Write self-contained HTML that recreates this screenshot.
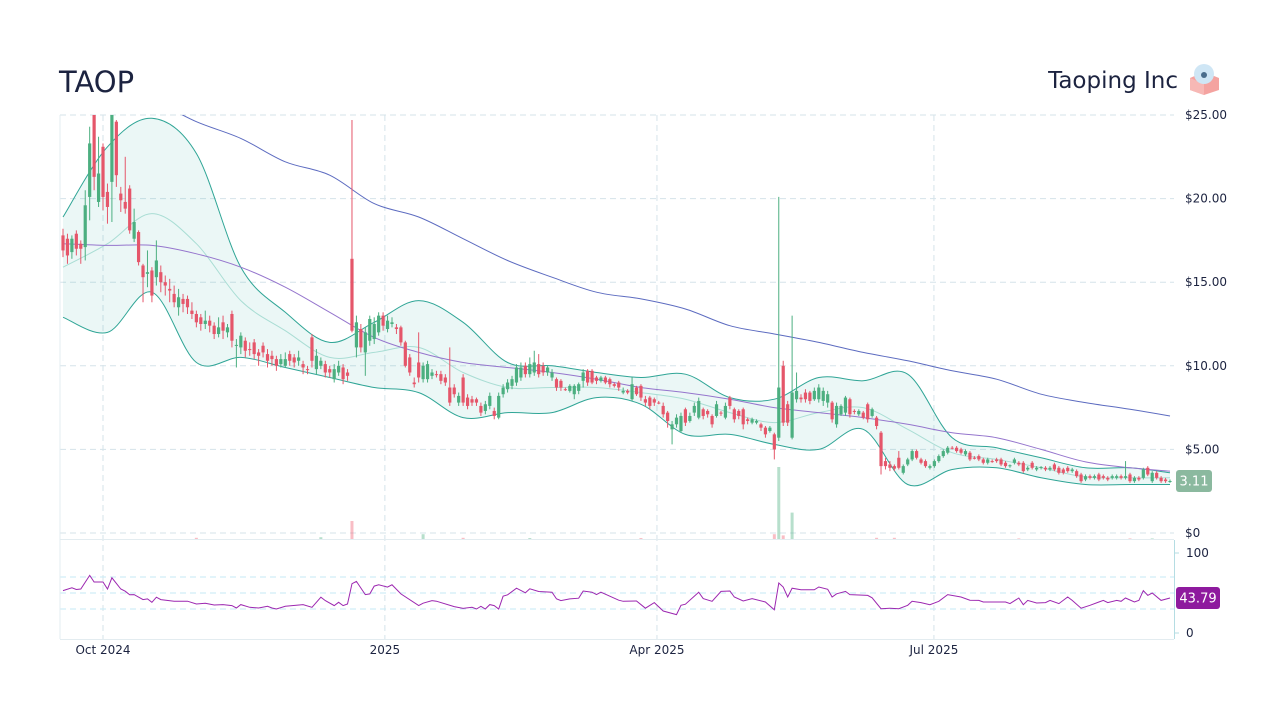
<!DOCTYPE html>
<html><head><meta charset="utf-8"><style>
html,body{margin:0;padding:0;background:#fff;}
body{width:1280px;height:720px;overflow:hidden;position:relative;font-family:"DejaVu Sans","Liberation Sans",sans-serif;}
#title{position:absolute;left:59px;top:65px;font-size:29px;color:#1c2340;}
#company{position:absolute;right:102px;top:68px;font-size:23px;color:#1c2340;}
svg text{font-family:"DejaVu Sans","Liberation Sans",sans-serif;}
</style></head><body>
<div id="title">TAOP</div>
<div id="company">Taoping Inc</div>
<svg id="chart" width="1280" height="720" style="position:absolute;left:0;top:0">
<g>
<path d="M1190 78 L1204 72 L1219 78 L1219 90 L1204 95 L1190 90 Z" fill="#f4a3a0"/>
<path d="M1204 84 L1204 95 L1190 90 L1190 78 Z" fill="#f7b8b5"/>
<circle cx="1204" cy="74" r="10" fill="#cfe6f5"/>
<circle cx="1204" cy="75" r="3" fill="#4a6d8c"/>
</g>
</svg>
<script>
const opens=[17.8,17.6,16.8,17.9,17.3,17.1,20.1,25.1,19.8,23.1,20.4,21.0,24.6,20.3,19.8,20.6,17.6,18.0,16.0,15.5,15.7,15.3,15.6,15.0,14.6,14.3,13.5,14.0,14.0,13.3,13.1,12.9,12.5,12.7,12.4,11.9,12.6,12.0,13.1,11.2,11.1,11.5,11.0,11.4,10.8,11.2,10.7,10.6,10.4,10.1,10.0,10.7,10.5,10.3,10.1,9.8,11.7,9.8,10.0,10.1,9.8,9.2,9.6,9.9,9.6,16.4,11.1,12.2,10.8,11.5,11.6,12.0,13.0,12.2,12.5,12.3,12.3,11.4,10.5,9.0,10.2,9.2,9.2,9.4,9.5,9.5,9.3,8.7,8.7,7.8,9.3,8.1,8.0,8.0,7.6,7.3,7.6,7.3,6.9,8.3,8.6,8.8,9.0,9.3,10.0,9.5,9.6,10.1,10.0,9.6,9.3,9.2,9.1,8.6,8.5,8.3,8.5,9.1,9.7,9.7,9.3,9.1,9.3,9.2,8.9,9.0,8.4,8.5,8.0,8.7,8.8,8.0,8.1,8.0,7.8,7.6,7.2,6.2,6.5,6.1,7.4,6.7,7.2,6.9,7.4,7.3,7.0,7.0,7.2,6.9,8.1,7.4,7.3,7.4,6.8,6.6,6.6,6.5,6.3,6.1,5.9,5.7,10.0,7.7,5.7,8.0,8.1,8.4,8.4,8.0,8.0,7.9,7.8,7.8,6.5,7.1,7.2,8.0,7.3,7.1,7.2,7.7,7.0,6.9,6.0,4.3,4.1,4.0,4.5,3.6,4.1,4.4,4.9,4.4,4.3,3.9,4.0,4.3,4.6,4.8,5.1,5.1,5.0,4.7,4.8,4.5,4.6,4.4,4.2,4.3,4.4,4.4,4.2,4.0,4.2,4.2,4.2,3.8,4.2,3.8,3.9,3.9,3.8,4.1,3.9,3.8,3.9,3.7,3.7,3.5,3.2,3.4,3.3,3.5,3.4,3.3,3.3,3.3,3.4,3.3,3.5,3.1,3.3,3.3,3.9,3.1,3.6,3.3,3.2,3.1];
const closes=[16.9,16.6,17.6,17.0,17.0,19.6,23.3,21.3,21.5,20.1,19.5,25.1,21.4,19.9,19.4,18.1,18.6,16.2,15.3,15.6,14.2,16.3,15.0,14.8,14.5,13.8,14.1,13.7,13.5,13.1,12.6,12.5,12.7,12.4,11.9,12.3,12.1,12.3,11.5,11.25,11.8,10.9,10.95,10.7,10.6,10.8,10.3,10.4,10.0,10.4,10.4,10.3,10.2,10.5,9.9,9.75,10.3,10.6,10.3,9.6,9.6,9.8,10.0,9.2,9.4,12.1,12.6,11.1,12.0,12.8,12.5,13.0,12.4,12.7,12.6,12.2,11.4,10.0,9.6,8.9,9.3,10.0,10.1,9.6,9.45,9.1,9.0,7.8,8.3,8.2,7.8,7.6,7.8,7.8,7.2,7.7,8.2,7.0,8.2,8.7,9.0,9.2,9.9,9.9,9.5,10.1,10.2,9.5,9.6,9.9,9.6,8.7,8.7,8.55,8.8,8.8,8.9,9.6,9.0,9.0,9.1,9.3,9.0,8.9,8.8,8.7,8.5,8.4,8.9,8.3,8.1,7.8,7.6,7.8,7.75,7.1,6.7,6.5,6.9,7.0,6.6,7.0,7.6,7.9,7.0,7.1,6.5,7.7,7.15,7.6,7.6,6.8,7.0,6.5,6.7,6.8,6.7,6.3,5.9,6.3,5.0,8.7,6.6,6.6,8.4,8.5,8.0,8.0,7.9,8.5,8.7,8.5,8.3,6.8,7.6,7.6,8.1,7.1,7.25,7.3,6.9,6.8,7.4,6.4,4.0,4.0,3.9,3.85,3.9,4.0,4.4,4.9,4.5,4.2,4.0,4.0,4.3,4.6,4.9,5.1,5.05,4.9,4.8,4.9,4.4,4.45,4.4,4.2,4.4,4.25,4.3,4.1,4.0,4.05,4.4,4.1,3.7,3.9,3.9,3.9,3.95,3.8,3.9,3.8,3.6,3.6,3.7,3.8,3.4,3.1,3.4,3.3,3.4,3.2,3.3,3.2,3.4,3.4,3.3,3.4,3.1,3.3,3.2,3.8,3.5,3.6,3.3,3.1,3.1,3.11];
const highs=[18.2,17.9,17.8,18.1,17.5,20.5,24.3,25.5,23.7,23.3,20.9,25.5,24.7,20.7,22.5,20.8,19.4,18.1,16.1,16.9,15.9,17.5,16.0,15.4,15.2,14.8,14.6,14.3,14.2,13.8,13.3,13.1,13.3,13.0,12.6,12.9,13.0,12.5,13.3,11.6,12.0,11.7,11.4,11.6,11.0,11.4,11.0,10.9,10.6,10.7,10.8,10.9,10.7,10.9,10.3,10.0,11.9,11.0,10.5,10.3,10.0,10.1,10.3,10.1,9.8,24.7,13.0,12.5,12.3,13.0,12.9,13.2,13.2,13.0,12.9,12.5,12.4,11.5,10.7,9.3,12.0,10.2,10.3,9.8,9.7,9.7,9.5,11.1,8.9,8.4,9.5,8.3,8.2,8.1,7.8,7.9,8.4,7.5,8.4,8.9,9.2,9.4,10.1,10.2,10.2,10.5,10.9,10.7,10.2,10.0,9.8,9.3,9.2,8.7,8.9,8.9,9.0,9.8,9.8,9.8,9.4,9.4,9.4,9.3,9.0,9.1,8.7,8.6,9.3,8.8,8.9,8.2,8.2,8.1,7.9,7.8,7.3,6.7,7.1,7.2,7.5,7.2,7.8,8.1,7.5,7.4,7.1,7.9,7.3,7.8,8.2,7.5,7.4,7.5,6.9,6.9,6.8,6.6,6.4,6.4,6.0,20.1,10.3,7.9,13.0,9.6,8.3,8.6,8.5,8.7,8.9,8.7,8.5,7.9,7.8,7.7,8.2,8.1,7.4,7.4,7.3,7.8,7.5,7.0,6.1,4.5,4.3,4.1,4.9,4.1,4.5,5.0,5.0,4.5,4.4,4.1,4.4,4.7,5.0,5.2,5.2,5.2,5.1,5.0,4.9,4.6,4.7,4.5,4.5,4.4,4.5,4.5,4.3,4.1,4.5,4.3,4.3,4.0,4.3,4.0,4.0,4.0,4.0,4.2,4.0,3.9,4.0,3.9,3.8,3.6,3.5,3.5,3.5,3.6,3.5,3.4,3.5,3.5,3.5,4.3,3.6,3.4,3.4,3.9,4.0,3.7,3.7,3.4,3.3,3.2];
const lows=[16.5,16.1,16.4,16.6,16.1,16.3,18.7,20.5,19.5,19.3,18.5,18.6,20.7,19.2,19.1,17.9,17.4,16.0,13.8,14.7,13.8,14.8,14.4,14.2,13.8,13.5,13.0,13.2,13.1,12.8,12.3,12.1,12.2,12.0,11.6,11.7,11.6,11.7,11.1,9.9,10.7,10.5,10.6,10.4,10.0,10.5,9.9,10.0,9.7,9.9,9.9,10.0,9.9,10.0,9.5,9.5,9.9,9.5,9.8,9.3,9.3,9.0,9.4,8.9,9.1,12.0,10.5,10.8,9.4,11.2,11.3,11.8,12.1,12.0,12.3,11.9,11.2,9.9,9.4,8.7,9.0,9.0,9.0,9.2,9.3,8.9,8.8,7.6,8.1,7.6,7.6,7.4,7.6,7.6,7.0,7.1,7.4,6.8,6.8,8.1,8.4,8.6,8.8,9.1,9.3,9.3,9.4,9.3,9.4,9.4,9.1,8.5,8.5,8.5,8.4,8.0,8.3,8.7,8.8,8.9,8.9,9.0,8.9,8.7,8.7,8.5,8.3,8.3,7.9,8.2,7.9,7.6,7.4,7.6,7.7,6.9,6.3,5.3,6.3,6.0,6.4,6.6,7.0,6.8,6.8,6.9,6.3,6.9,7.0,6.8,7.4,6.6,6.8,6.2,6.5,6.5,6.5,6.1,5.7,6.0,4.4,5.5,6.4,6.4,5.6,7.8,7.8,7.8,7.7,7.9,7.8,7.6,7.5,6.6,6.3,7.0,7.0,6.9,7.1,7.0,6.8,6.6,6.9,6.2,3.5,3.8,3.7,3.7,3.8,3.5,4.0,4.3,4.4,4.1,3.9,3.8,3.9,4.2,4.5,4.7,5.0,4.8,4.7,4.6,4.3,4.4,4.3,4.1,4.1,4.2,4.2,4.0,3.9,3.9,4.1,4.0,3.6,3.7,3.8,3.7,3.8,3.7,3.7,3.7,3.5,3.5,3.6,3.6,3.3,3.0,3.1,3.2,3.2,3.1,3.2,3.1,3.2,3.2,3.2,3.2,3.0,3.0,3.1,3.2,3.4,3.0,3.2,3.0,3.0,3.0];
// indicator samples (candle index -> value)
const indDays=[0,10,20,30,40,50,60,70,80,90,100,110,120,130,140,150,160,170,180,190,200,210,220,230,240,249];
const sma200=[27.5,26.7,25.9,24.6,23.6,22.2,21.4,19.7,18.9,17.6,16.3,15.3,14.4,14.0,13.4,12.4,11.9,11.4,10.8,10.3,9.7,9.2,8.3,7.8,7.4,7.0];
const sma50=[17.3,17.2,17.2,16.7,15.9,14.7,13.2,11.7,10.8,10.2,9.9,9.6,9.2,8.7,8.4,8.0,7.5,7.2,6.9,6.5,6.0,5.7,5.0,4.25,3.9,3.7];
const bbUpper=[18.9,23.1,24.8,22.7,15.9,13.2,11.4,12.6,13.9,12.6,10.2,10.0,9.6,9.3,9.5,8.1,8.0,9.3,9.1,9.5,5.7,5.1,4.5,3.9,3.9,3.6];
const bbMiddle=[15.9,17.3,19.1,17.3,13.9,12.1,10.5,10.8,11.1,9.6,8.7,8.7,8.7,8.4,8.0,7.2,6.6,7.2,7.5,6.2,4.8,4.4,3.9,3.35,3.3,3.3];
const bbLower=[12.9,12.0,14.4,10.2,10.5,9.9,9.3,8.7,8.4,6.9,7.2,7.2,8.1,7.7,5.9,5.9,5.3,5.0,6.2,2.9,3.8,3.9,3.3,2.9,2.9,2.9];
const rsiDays=[0,2,3,4,6,7,9,10,11,13,14,15,16,18,19,20,21,22,25,28,30,32,34,36,38,39,40,42,44,46,47,48,50,54,56,58,59,61,62,63,64,65,66,68,69,70,71,73,74,76,80,81,83,84,88,90,92,93,94,95,96,97,98,99,100,102,104,105,107,110,111,112,114,116,117,119,120,121,123,125,126,129,131,133,135,138,139,140,143,144,146,148,150,151,153,155,158,160,161,162,163,164,166,169,170,172,173,174,176,177,181,182,184,186,188,190,191,193,195,197,199,202,204,206,207,210,212,213,215,216,217,219,221,222,224,226,227,229,231,233,234,235,237,238,239,241,242,243,244,245,247,249];
const rsiVals=[53,56.5,54.4,55,72,63.7,63.7,55,69,55,52.3,47.7,48,41.8,42.6,38.4,44.7,41.8,39.7,39.7,36.3,37.2,35,35.5,34.2,31.3,35.5,32.1,31.3,33.4,31.3,30,33.4,35.5,32.1,44.7,40.5,34.2,38.4,34.2,36.3,61.6,64.5,48,48.9,58.6,60.3,57.4,60.3,48.9,34.2,37.2,40.5,39.7,33,30.8,32.1,30,33.4,30,35.5,34.2,30,46,47.7,56,50.2,55.3,51.9,51,42.6,40.5,42.6,43.5,52.5,51,48,51,46,41,39.6,40,31,38,27.5,23,34.6,36,51,43,39.6,52,52.5,45,40,43,38.8,29,62.5,57.5,45,56,54,54,57.5,54.6,45,49,52,48,47,44,30.4,31,30.4,34.6,39.6,38,35.4,39.6,48,45,41,40.8,38.8,38.8,38.8,36.7,43.8,35.4,40.8,37.5,38,40.8,36.7,45,40.8,31,34.6,38.8,40.8,38,40.8,39.6,43.8,38.8,40.8,53,47,50,40.8,43.79];
const volDays=[30,58,65,81,90,105,130,160,161,162,164,183,187,215,240,245];
const volVals=[0.1,0.15,1.5,0.4,0.1,0.08,0.08,0.4,6.0,0.3,2.2,0.1,0.1,0.05,0.05,0.05];
const priceTicks=[0,5,10,15,20,25];
const rsiTicks=[0,100];
const dateLabels=["Oct 2024","2025","Apr 2025","Jul 2025"];
const dateDays=[9.0,72.4,133.6,195.9];

const NS="http://www.w3.org/2000/svg";
const svg=document.getElementById('chart');
const L=60,R=1174,PT=115,P0=533,R100=553,R0=633;
const N=closes.length;
const xOf=i=>63+i*(1107/(N-1));
const yP=v=>P0-(v/25)*(P0-PT);
const yR=v=>R0-(v/100)*(R0-R100);
const yV=v=>539-v*12;
function mk(tag,attrs,parent){const e=document.createElementNS(NS,tag);for(const k in attrs)e.setAttribute(k,attrs[k]);(parent||svg).appendChild(e);return e;}
function smooth(pts){let d="M"+pts[0][0].toFixed(1)+" "+pts[0][1].toFixed(1);for(let i=0;i<pts.length-1;i++){const p0=pts[i-1]||pts[i],p1=pts[i],p2=pts[i+1],p3=pts[i+2]||p2;const c1x=p1[0]+(p2[0]-p0[0])/6,c1y=p1[1]+(p2[1]-p0[1])/6,c2x=p2[0]-(p3[0]-p1[0])/6,c2y=p2[1]-(p3[1]-p1[1])/6;d+=` C${c1x.toFixed(1)} ${c1y.toFixed(1)} ${c2x.toFixed(1)} ${c2y.toFixed(1)} ${p2[0].toFixed(1)} ${p2[1].toFixed(1)}`;}return d;}

const defs=mk('defs',{});
const cp=mk('clipPath',{id:'pclip'},defs);mk('rect',{x:L,y:PT,width:R-L,height:P0-PT+6},cp);

const grid=mk('g',{});


priceTicks.forEach(t=>{mk('line',{x1:L,x2:R,y1:yP(t),y2:yP(t),stroke:'#d5e3ea','stroke-dasharray':'6 4','stroke-width':1},grid);});
dateDays.forEach(d=>{mk('line',{x1:xOf(d),x2:xOf(d),y1:PT,y2:639,stroke:'#d5e3ea','stroke-dasharray':'6 4','stroke-width':1},grid);});
[30,50,70].forEach(t=>{mk('line',{x1:L,x2:R,y1:yR(t),y2:yR(t),stroke:'#c6eaf5','stroke-dasharray':'6 4','stroke-width':1},grid);});
mk('line',{x1:L,x2:L,y1:PT,y2:639,stroke:'#e3ecf0'},grid);
mk('line',{x1:L,x2:R,y1:539.5,y2:539.5,stroke:'#e3ecf0'},grid);
mk('line',{x1:L,x2:R,y1:639.5,y2:639.5,stroke:'#e3ecf0'},grid);
mk('line',{x1:R+0.5,x2:R+0.5,y1:540,y2:639,stroke:'#b5dde3'},grid);

const vg=mk('g',{});


volDays.forEach((d,k)=>{const up=closes[d]>=opens[d];const r=mk('rect',{x:xOf(d)-1.5,y:yV(volVals[k]),width:3,height:539-yV(volVals[k]),fill:up?'rgba(76,175,128,0.4)':'rgba(240,90,110,0.4)'},vg);

});

const pg=mk('g',{'clip-path':'url(#pclip)'});
const up=indDays.map((d,k)=>[xOf(d),yP(bbUpper[k])]);
const lo=indDays.map((d,k)=>[xOf(d),yP(bbLower[k])]);
const upD=smooth(up),loRev=smooth(lo.slice().reverse());
const fill=mk('path',{d:upD+" L"+loRev.slice(1),fill:'rgba(38,166,154,0.09)',stroke:'none'},pg);


function line(arr,col,w,name){const p=mk('path',{d:smooth(indDays.map((d,k)=>[xOf(d),yP(arr[k])])),fill:'none',stroke:col,'stroke-width':w},pg);}
line(bbUpper,'#2fa596',1,'bollinger-upper');
line(bbLower,'#2fa596',1,'bollinger-lower');
line(bbMiddle,'#a9ddd4',1,'bollinger-middle');
line(sma50,'#9575cd',1,'sma-50-line');
line(sma200,'#5c6bc0',1,'sma-200-line');

for(let i=0;i<N;i++){const o=opens[i],c=closes[i];const upC=c>=o;const col=upC?'#4caf80':'#e5566a';const x=xOf(i);
const g=mk('g',{},pg);


mk('line',{x1:x,x2:x,y1:yP(highs[i]),y2:yP(lows[i]),stroke:col,'stroke-width':1},g);
const t=yP(Math.max(o,c)),b=yP(Math.min(o,c));
mk('rect',{x:x-1.6,y:t,width:3.2,height:Math.max(1,b-t),fill:col},g);}

const rp=mk('path',{d:'M'+rsiDays.map((d,k)=>xOf(d).toFixed(1)+' '+yR(rsiVals[k]).toFixed(1)).join(' L'),fill:'none',stroke:'#9c27b0','stroke-width':1});



priceTicks.forEach(t=>{const tx=mk('text',{x:1185,y:yP(t)+4,'font-size':12,fill:'#1c2340'});tx.textContent=t===0?'$0':'$'+t.toFixed(2);

});
rsiTicks.forEach(t=>{mk('line',{x1:R,x2:R+5,y1:yR(t),y2:yR(t),stroke:'#b5dde3'});const tx=mk('text',{x:1186,y:yR(t)+4,'font-size':12,fill:'#1c2340'});tx.textContent=String(t);

});
dateLabels.forEach((s,k)=>{const tx=mk('text',{x:xOf(dateDays[k]),y:654,'font-size':12,fill:'#1c2340','text-anchor':'middle'});tx.textContent=s;

});

function badge(y,txt,col,w,name){const g=mk('g',{});
mk('rect',{x:1176,y:y-11,width:w,height:22,rx:3,fill:col},g);const tx=mk('text',{x:1176+w/2,y:y+4.5,'font-size':13,fill:'#fff','text-anchor':'middle'},g);tx.textContent=txt;}
badge(yP(closes[N-1]),closes[N-1].toFixed(2),'#8bb99f',36,'last-price-badge');
badge(yR(rsiVals[rsiVals.length-1]),rsiVals[rsiVals.length-1].toFixed(2),'#8e1a9e',44,'last-rsi-badge');
</script>
</body></html>
